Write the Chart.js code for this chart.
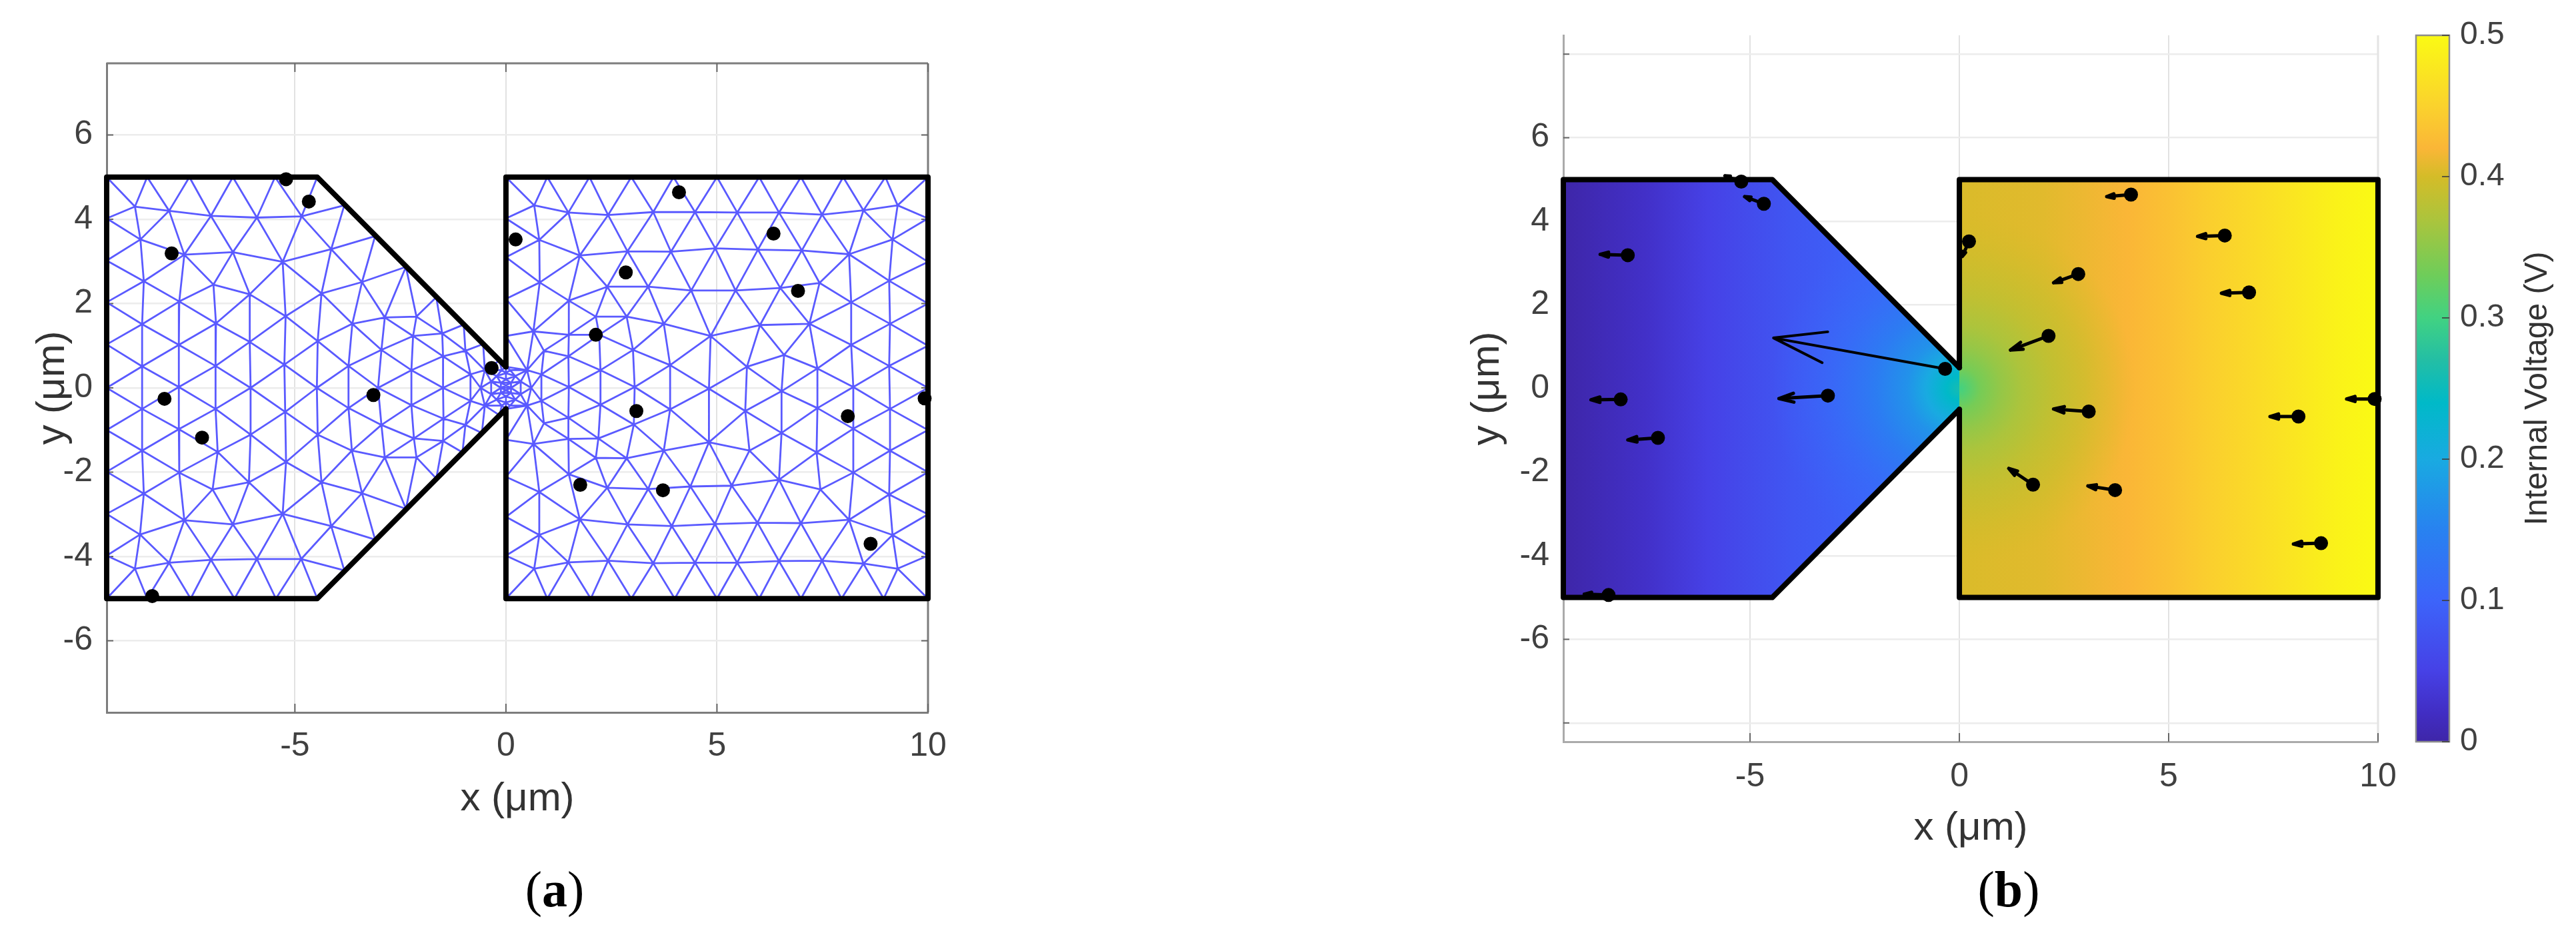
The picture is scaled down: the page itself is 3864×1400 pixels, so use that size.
<!DOCTYPE html>
<html><head><meta charset="utf-8">
<script src="https://cdn.jsdelivr.net/npm/chart.js@4/dist/chart.umd.min.js"></script>
<style>
html,body{margin:0;padding:0;background:#fff;width:3864px;height:1400px;overflow:hidden}
canvas{position:absolute;top:0}
</style></head><body>
<canvas id="a" width="1500" height="1400" style="left:0"></canvas>
<canvas id="b" width="1520" height="1400" style="left:2100px"></canvas>
<canvas id="c" width="254" height="1400" style="left:3610px"></canvas>
<script>
// ---------- axes ----------
const xTicks = [-5, 0, 5, 10];
const yTicks = [-6, -4, -2, 0, 2, 4, 6];
const yTicksB = [-8, -6, -4, -2, 0, 2, 4, 6, 8];
const yTicksBUnlabelled = [-8, 8];
const cbTicks = [0, 0.1, 0.2, 0.3, 0.4, 0.5];
const xTitle = 'x (μm)', yTitle = 'y (μm)', cbTitle = 'Internal Voltage (V)';
// ---------- device walls (μm) ----------
const wallLeft  = [[0,0.5],[-4.47,5],[-9.46,5],[-9.46,-5],[-4.47,-5],[0,-0.5]];
const wallRight = [[0,0.5],[0,5],[10,5],[10,-5],[0,-5],[0,-0.5]];
// ---------- ion positions and quiver tips (μm) ----------
const ionX = [-5.21,-4.67,-7.92,-8.09,-7.20,-3.14,-8.38,-0.34,0.23,2.84,2.13,3.09,1.76,3.72,4.10,6.34,6.92,8.10,9.92,8.64];
const ionY = [4.95,4.42,3.19,-0.26,-1.18,-0.17,-4.94,0.47,3.52,2.74,1.26,-0.55,-2.30,-2.43,4.64,3.66,2.30,-0.67,-0.25,-3.70];
const tipX = [-5.60,-5.13,-8.58,-8.80,-7.92,-4.31,-8.96,-4.44,0.07,2.25,1.22,2.25,1.18,3.07,3.52,5.69,6.26,7.42,9.25,7.98];
const tipY = [5.09,4.59,3.21,-0.27,-1.23,-0.24,-4.92,1.21,3.16,2.53,0.92,-0.49,-1.91,-2.33,4.59,3.64,2.28,-0.67,-0.25,-3.72];
const bigArrowIon = 7;
// ---------- colour map: voltage → colour ----------
const cmapV = [0,0.02,0.05,0.1,0.15,0.2,0.24,0.27,0.3,0.33,0.37,0.40,0.42,0.45,0.5];
const cmapRGB = [[62,38,168],[65,45,195],[70,65,230],[60,100,250],[40,130,240],[25,170,225],[0,185,200],[35,190,165],[65,210,130],[110,205,90],[172,196,60],[212,188,40],[250,182,55],[250,210,45],[250,250,20]];
// ---------- voltage read along x, and around the orifice ----------
const leftFieldX = [-9.46,-7.5,-6,-5,-4,-2,0];
const leftFieldV = [0,0.024,0.05,0.065,0.08,0.1,0.12];
const leftHubR = [0,0.3,0.8,1.25,2,3,4.5];
const leftHubV = [0.26,0.24,0.2,0.17,0.14,0.115,0.095];
const leftHubA = [1,1,1,1,1,0.7,0];
const rightFieldX = [0,2,3,4,5,6,7,8,9,10];
const rightFieldV = [0.403,0.407,0.413,0.42,0.432,0.447,0.46,0.475,0.49,0.5];
const rightHubR = [0,0.14,0.5,1,1.5,2.2,3,4.2];
const rightHubV = [0.3,0.31,0.335,0.355,0.37,0.385,0.392,0.4];
const rightHubA = [1,1,1,1,1,1,0.7,0];
// ---------- mesh nodes (μm) ----------
const meshWallLeft = [[-9.46,5],[-9.46,4.02],[-9.46,3.02],[-9.46,2.03],[-9.46,1.03],[-9.46,0],[-9.46,-1],[-9.46,-1.99],[-9.46,-2.99],[-9.46,-3.98],[-9.46,-5],
 [-8.5,5],[-7.5,5],[-6.47,5],[-5.47,5],[-4.47,5],[-8.5,-5],[-7.47,-5],[-6.43,-5],[-5.45,-5],[-4.47,-5],
 [-3.83,4.33],[-3.10,3.6],[-2.37,2.87],[-1.65,2.15],[-1.0,1.5],[-0.54,1.04],[-0.15,0.65],
 [-3.83,-4.33],[-3.10,-3.6],[-2.37,-2.87],[-1.65,-2.15],[-1.03,-1.53],[-0.57,-1.07],[-0.15,-0.65]];
const meshWallRight = [[0,5],[0,4.02],[0,3.10],[0,2.11],[0,1.23],[0,-1.23],[0,-2.11],[0,-3.06],[0,-3.98],[0,-5],
 [0.98,5],[1.98,5],[2.97,5],[3.97,5],[5,5],[6,5],[6.99,5],[7.99,5],[8.99,5],[10,5],
 [0.98,-5],[2.01,-5],[2.97,-5],[4,-5],[5,-5],[6,-5],[6.99,-5],[7.95,-5],[8.95,-5],[10,-5],
 [10,4.02],[10,2.99],[10,2],[10,1],[10,0],[10,-1],[10,-2],[10,-3],[10,-3.98]];
const meshHub = [[0,0.5],[0,-0.5],[0,0.2],[0,-0.2],[-0.12,0],[0.12,0],[-0.35,0.15],[-0.35,-0.15],[0.35,0.15],[0.35,-0.15],[-0.22,0.28],[-0.22,-0.28],[0.22,0.28],[0.22,-0.28],[-0.6,0],[0.6,0],[-0.5,0.42],[-0.5,-0.42],[0.5,0.42],[0.5,-0.42],
 [-0.12,0.12],[0.12,0.12],[-0.12,-0.12],[0.12,-0.12],[0,0.35],[0,-0.35],[-0.1,0.42],[0.1,0.42],[-0.1,-0.42],[0.1,-0.42]];
const meshLeft = [[-8.79,4.30],[-7.98,4.20],[-6.99,4.08],[-5.90,4.04],[-4.84,4.07],
 [-8.66,3.52],[-7.62,3.16],[-6.47,3.22],[-5.29,2.99],[-4.14,3.29],
 [-8.58,2.53],[-7.74,2.05],[-6.93,2.45],[-6.07,2.22],[-5.22,1.70],[-4.37,2.24],[-3.41,2.51],
 [-8.62,1.51],[-6.87,1.53],[-6.07,1.09],[-4.46,1.11],[-3.64,1.52],[-2.87,1.67],[-2.12,1.69],
 [-7.75,1.02],[-6.88,0.52],[-5.25,0.55],[-3.73,0.52],[-2.95,0.90],[-2.20,1.23],[-1.51,1.29],
 [-8.62,0.51],[-7.75,0.02],[-6.05,0],[-4.48,0],[-3.03,0],[-2.24,0.42],[-1.49,0.75],[-0.96,0.88],
 [-8.62,-0.50],[-6.88,-0.50],[-5.23,-0.57],[-3.73,-0.48],[-2.24,-0.41],[-1.49,0],[-0.84,0.32],[-0.84,-0.31],
 [-7.75,-0.98],[-6.05,-1.11],[-4.46,-1.11],[-2.95,-0.88],[-1.48,-0.73],[-0.96,-0.88],
 [-8.62,-1.49],[-6.83,-1.52],[-5.21,-1.76],[-3.65,-1.49],[-2.87,-1.65],[-2.18,-1.20],[-1.49,-1.26],
 [-7.74,-2.01],[-6.09,-2.24],[-4.37,-2.24],[-2.12,-1.65],
 [-8.58,-2.51],[-6.95,-2.41],[-5.29,-2.99],[-3.41,-2.50],
 [-7.62,-3.14],[-6.47,-3.24],[-4.14,-3.28],[-8.67,-3.48],
 [-7.98,-4.15],[-6.99,-4.08],[-5.90,-4.06],[-4.85,-4.06],[-8.79,-4.29]];
const meshRight = [[0.67,4.33],[1.48,4.16],[2.42,4.10],[3.49,4.17],[4.48,4.17],[5.48,4.16],[6.47,4.16],[7.49,4.11],[8.47,4.21],[9.28,4.33],
 [0.79,3.51],[1.75,3.14],[2.88,3.24],[3.91,3.23],[4.96,3.31],[5.97,3.28],[7.01,3.26],[8.13,3.17],[9.16,3.52],
 [0.80,2.50],[2.40,2.40],[3.37,2.40],[4.39,2.31],[5.44,2.31],[6.50,2.37],[7.43,2.49],[9.08,2.54],
 [1.49,2.07],[2.13,1.69],[2.86,1.69],[3.74,1.52],[4.85,1.23],[6.02,1.49],[7.19,1.52],[8.18,2.03],
 [0.65,1.34],[1.49,1.26],[2.21,1.26],[3.01,0.90],[3.89,0.54],[5.71,0.50],[6.59,0.78],[8.18,1.02],[9.10,1.52],
 [0.90,0.88],[1.48,0.75],[2.24,0.42],[3.05,0.02],[4.81,-0.02],[6.53,-0.08],[7.38,0.46],[8.23,0.02],[9.08,0.52],
 [0.84,0.32],[1.49,0.02],[2.24,-0.40],[3.89,-0.51],[5.67,-0.55],[7.38,-0.48],[8.23,-0.97],[9.10,-0.50],
 [0.84,-0.31],[1.48,-0.71],[3.03,-0.87],[4.81,-1.29],[6.53,-1.07],[9.10,-1.49],
 [0.90,-0.84],[0.65,-1.33],[2.19,-1.20],[1.48,-1.21],[2.86,-1.67],[3.74,-1.49],[5.77,-1.49],[7.36,-1.53],[8.23,-2.01],
 [2.13,-1.66],[1.49,-2.05],[2.40,-2.37],[3.37,-2.40],[4.37,-2.34],[5.35,-2.32],[6.47,-2.18],[7.45,-2.41],[9.08,-2.53],
 [0.79,-2.47],[1.75,-3.12],[2.88,-3.24],[3.93,-3.28],[4.95,-3.23],[5.96,-3.20],[6.99,-3.21],[8.13,-3.13],[9.16,-3.49],
 [0.79,-3.49],[1.48,-4.14],[2.42,-4.10],[3.49,-4.16],[4.48,-4.15],[5.48,-4.15],[6.47,-4.11],[7.49,-4.10],[8.47,-4.17],[9.28,-4.29],[0.67,-4.29]];

// ---------- helpers ----------
const FONT = 'Liberation Sans';
const TXT = '#404040';
function zipXY(pts){return pts.map(p=>({x:p[0],y:p[1]}));}
function cmap(v,a){
  let i=0; while(i<cmapV.length-2 && v>cmapV[i+1]) i++;
  const t=Math.max(0,Math.min(1,(v-cmapV[i])/(cmapV[i+1]-cmapV[i])));
  const c=cmapRGB[i].map((q,k)=>Math.round(q+(cmapRGB[i+1][k]-q)*t));
  return `rgba(${c[0]},${c[1]},${c[2]},${a===undefined?1:a})`;
}
function inDevice(x,y){
  if(x>=0) return x<=10 && Math.abs(y)<=5;
  if(x<-9.46) return false;
  if(x<=-4.47) return Math.abs(y)<=5;
  return Math.abs(y)<=0.5+(-x)*(4.5/4.47);
}
function meshEdges(){
  const seen={},N=[...meshWallLeft,...meshWallRight,...meshHub,...meshLeft,...meshRight];
  const out=[];
  const R2=3.2*3.2;
  const d2=(a,b)=>(a[0]-b[0])**2+(a[1]-b[1])**2;
  function add(i,j){
    const k=i<j?i+'_'+j:j+'_'+i; if(seen[k])return; seen[k]=1;
    out.push({x:N[i][0],y:N[i][1]},{x:N[j][0],y:N[j][1]},{x:NaN,y:NaN});
  }
  for(let i=0;i<N.length;i++){
    const nb=[];
    for(let j=i+1;j<N.length;j++) if(d2(N[i],N[j])<R2) nb.push(j);
    for(let a=0;a<nb.length;a++)for(let b=a+1;b<nb.length;b++){
      const A=N[i],B=N[nb[a]],C=N[nb[b]];
      const D=2*(A[0]*(B[1]-C[1])+B[0]*(C[1]-A[1])+C[0]*(A[1]-B[1]));
      if(Math.abs(D)<1e-3) continue;
      const sa=A[0]*A[0]+A[1]*A[1],sb=B[0]*B[0]+B[1]*B[1],sc=C[0]*C[0]+C[1]*C[1];
      const ux=(sa*(B[1]-C[1])+sb*(C[1]-A[1])+sc*(A[1]-B[1]))/D;
      const uy=(sa*(C[0]-B[0])+sb*(A[0]-C[0])+sc*(B[0]-A[0]))/D;
      const r2=(A[0]-ux)**2+(A[1]-uy)**2;
      if(r2>9) continue;
      let empty=true;
      for(let k=0;k<N.length;k++){
        if(k===i||k===nb[a]||k===nb[b])continue;
        if((N[k][0]-ux)**2+(N[k][1]-uy)**2<r2-1e-6){empty=false;break;}
      }
      if(!empty)continue;
      const cx=(A[0]+B[0]+C[0])/3,cy=(A[1]+B[1]+C[1])/3;
      if(!inDevice(cx,cy))continue;
      add(i,nb[a]);add(nb[a],nb[b]);add(i,nb[b]);
    }
  }
  return out;
}
function quiverSegments(big){
  const out=[],al=0.3,be=0.3;
  ionX.forEach((x,i)=>{
    if((i===bigArrowIon)!==big) return;
    const tx=tipX[i],ty=tipY[i],ux=tx-x,uy=ty-ionY[i];
    out.push({x,y:ionY[i]},{x:tx,y:ty},{x:NaN,y:NaN});
    out.push({x:tx-al*(ux+be*uy),y:ty-al*(uy-be*ux)},{x:tx,y:ty},{x:tx-al*(ux-be*uy),y:ty-al*(uy+be*ux)},{x:NaN,y:NaN});
  });
  return out;
}
function wallLines(){
  return [...zipXY(wallLeft),{x:NaN,y:NaN},...zipXY(wallRight)];
}
function closed(pts){return [...zipXY(pts),{x:pts[0][0],y:pts[0][1]}];}
const leftShape=closed(wallLeft), rightShape=closed(wallRight);
function linearFill(xs,vs){
  return c=>{
    const ch=c.chart; if(!ch.chartArea) return 'rgba(0,0,0,0)';
    const s=ch.scales.x,a=s.getPixelForValue(xs[0]),b=s.getPixelForValue(xs[xs.length-1]);
    const g=ch.ctx.createLinearGradient(a,0,b,0);
    xs.forEach((x,i)=>g.addColorStop((x-xs[0])/(xs[xs.length-1]-xs[0]),cmap(vs[i])));
    return g;
  };
}
function radialFill(rs,vs,as){
  return c=>{
    const ch=c.chart; if(!ch.chartArea) return 'rgba(0,0,0,0)';
    const sx=ch.scales.x,sy=ch.scales.y,cx=sx.getPixelForValue(0),cy=sy.getPixelForValue(0);
    const R=sx.getPixelForValue(rs[rs.length-1])-cx;
    const g=ch.ctx.createRadialGradient(cx,cy,0,cx,cy,R);
    rs.forEach((r,i)=>g.addColorStop(r/rs[rs.length-1],cmap(vs[i],as[i])));
    return g;
  };
}
function line(data,color,w,extra){
  return Object.assign({type:'scatter',showLine:true,data,borderColor:color,borderWidth:w,pointRadius:0,clip:false,
    borderCapStyle:'round',borderJoinStyle:'round',tension:0},extra||{});
}
function shape(data,fillFn){
  return {type:'scatter',showLine:true,data,borderWidth:0,borderColor:'rgba(0,0,0,0)',pointRadius:0,clip:false,fill:'shape',backgroundColor:fillFn};
}
function frame(o){return {id:'frame',beforeDatasetsDraw(ch){
  const {ctx,chartArea:A}=ch; ctx.save();
  ctx.strokeStyle=o.box; ctx.lineWidth=o.boxW;
  if(o.top){ctx.beginPath();ctx.moveTo(A.left,A.top);ctx.lineTo(A.right,A.top);ctx.stroke();}
  ctx.strokeStyle=o.rightC||o.box;
  if(o.rightC!==null){ctx.beginPath();ctx.moveTo(A.right,A.top);ctx.lineTo(A.right,A.bottom);ctx.stroke();}
  ctx.strokeStyle=o.tick; ctx.lineWidth=2;
  if(ch.scales.x&&o.xLen) ch.scales.x.ticks.forEach(t=>{const p=ch.scales.x.getPixelForValue(t.value);
    ctx.beginPath();ctx.moveTo(p,A.bottom);ctx.lineTo(p,A.bottom-o.xLen);ctx.stroke();
    if(o.top){ctx.beginPath();ctx.moveTo(p,A.top);ctx.lineTo(p,A.top+o.xLen);ctx.stroke();}
  });
  ch.scales.y.ticks.forEach(t=>{const p=ch.scales.y.getPixelForValue(t.value);
    ctx.beginPath();ctx.moveTo(A.left,p);ctx.lineTo(A.left+o.yLen,p);ctx.stroke();
    if(o.top){ctx.beginPath();ctx.moveTo(A.right,p);ctx.lineTo(A.right-o.yLen,p);ctx.stroke();}
  });
  ctx.restore();
}};}
function caption(letter,cx,base){return {id:'caption',afterDraw(ch){
  const c=ch.ctx; c.save(); c.fillStyle='#000'; c.textBaseline='alphabetic'; c.textAlign='left';
  const n='76px "Liberation Serif"',b='bold 76px "Liberation Serif"';
  c.font=n; const w1=c.measureText('(').width,w3=c.measureText(')').width;
  c.font=b; const w2=c.measureText(letter).width;
  let x=cx-(w1+w2+w3)/2;
  c.font=n; c.fillText('(',x,base); x+=w1;
  c.font=b; c.fillText(letter,x,base); x+=w2;
  c.font=n; c.fillText(')',x,base);
  c.restore();
}};}
function panelOptions(o){
  const hide=o.hideY||[];
  return {
    responsive:false,animation:false,devicePixelRatio:1,events:[],
    layout:{autoPadding:false,padding:{left:0,top:o.top,right:o.right,bottom:110}},
    plugins:{legend:{display:false},tooltip:{enabled:false}},
    scales:{
      x:{type:'linear',min:-9.46,max:10,afterBuildTicks:s=>{s.ticks=xTicks.map(v=>({value:v}));},afterFit:s=>{s.height=o.xH;},
        grid:{color:'#e2e2e2',lineWidth:2,drawTicks:false},border:{color:o.box,width:o.axisW},
        ticks:{padding:o.xPad,color:TXT,font:{family:FONT,size:50},maxRotation:0,autoSkip:false,callback:v=>String(v)},
        title:{display:true,text:xTitle,color:'#333',font:{family:FONT,size:60},padding:{top:0,bottom:o.xTitlePad}}},
      y:{type:'linear',min:-o.yMax,max:o.yMax,afterBuildTicks:s=>{s.ticks=o.yTicks.map(v=>({value:v}));},afterFit:s=>{s.width=o.yW;},
        grid:{color:'#ececec',lineWidth:2.5,drawTicks:false},border:{color:o.box,width:o.axisW},
        ticks:{padding:21,color:TXT,font:{family:FONT,size:50},autoSkip:false,callback:v=>hide.includes(v)?'':String(v)},
        title:{display:true,text:yTitle,color:'#333',font:{family:FONT,size:60},padding:{top:o.yTitlePad,bottom:0}}}
    }
  };
}
const ionData=ionX.map((x,i)=>({x,y:ionY[i]}));
const ionSet={type:'scatter',data:ionData,pointRadius:10.5,pointBackgroundColor:'#000',pointBorderWidth:0,clip:false};

new Chart(document.getElementById('a'),{type:'scatter',
  data:{datasets:[ionSet,
    line(wallLines(),'#000',8),
    line(meshEdges(),'rgb(90,90,255)',2.8,{borderCapStyle:'butt'})]},
  options:panelOptions({top:95,right:108,xH:221,yW:160,yMax:7.7,yTicks,box:'#7d7d7d',axisW:3,xPad:21,xTitlePad:55,yTitlePad:43}),
  plugins:[frame({box:'#7d7d7d',boxW:3,top:true,tick:'#666',xLen:13,yLen:10}),caption('a',832,1360)]
});

new Chart(document.getElementById('b'),{type:'scatter',
  data:{datasets:[Object.assign({},ionSet,{data:ionData}),
    line(quiverSegments(false),'#000',5),
    line(quiverSegments(true),'#000',4),
    line(wallLines(),'#000',8),
    shape(leftShape,radialFill(leftHubR,leftHubV,leftHubA)),
    shape(rightShape,radialFill(rightHubR,rightHubV,rightHubA)),
    shape(leftShape,linearFill(leftFieldX,leftFieldV)),
    shape(rightShape,linearFill(rightFieldX,rightFieldV))]},
  options:panelOptions({top:53,right:53,xH:177,yW:245,yMax:8.45,yTicks:yTicksB,hideY:yTicksBUnlabelled,box:'#aaaaaa',axisW:3,xPad:23,xTitlePad:11,yTitlePad:95}),
  plugins:[frame({box:'#aaaaaa',boxW:3,top:false,rightC:'#e4e4e4',tick:'#666',xLen:13,yLen:9}),caption('b',913,1360)]
});

new Chart(document.getElementById('c'),{type:'bar',
  data:{labels:[''],datasets:[{data:[0.5],barPercentage:1,categoryPercentage:1,borderWidth:0,
    backgroundColor:c=>{const ch=c.chart;if(!ch.chartArea)return '#888';
      const A=ch.chartArea,g=ch.ctx.createLinearGradient(0,A.bottom,0,A.top);
      cmapV.forEach((v,i)=>g.addColorStop(v/0.5,cmap(v)));return g;}}]},
  options:{responsive:false,animation:false,devicePixelRatio:1,events:[],
    layout:{autoPadding:false,padding:{left:14,top:53,right:0,bottom:287}},
    plugins:{legend:{display:false},tooltip:{enabled:false}},
    scales:{
      x:{display:false},
      y:{position:'right',min:0,max:0.5,afterBuildTicks:s=>{s.ticks=cbTicks.map(v=>({value:v}));},afterFit:s=>{s.width=190;},
        grid:{display:false,drawTicks:false},border:{display:false},
        ticks:{padding:16,color:TXT,font:{family:FONT,size:48},autoSkip:false,callback:v=>String(v)}}
    }},
  plugins:[{id:'cbFrame',afterDatasetsDraw(ch){
    const {ctx,chartArea:A}=ch; ctx.save();
    ctx.strokeStyle='#8c8c8c';ctx.lineWidth=2.5;ctx.strokeRect(A.left,A.top,A.right-A.left,A.bottom-A.top);
    ctx.strokeStyle='rgba(60,60,60,0.8)';ctx.lineWidth=2;
    ch.scales.y.ticks.forEach(t=>{const p=ch.scales.y.getPixelForValue(t.value);
      ctx.beginPath();ctx.moveTo(A.right,p);ctx.lineTo(A.right-11,p);ctx.stroke();});
    ctx.translate(197,583);ctx.rotate(-Math.PI/2);ctx.fillStyle='#333';ctx.font='48px "Liberation Sans"';
    ctx.textAlign='center';ctx.textBaseline='middle';ctx.fillText(cbTitle,0,0);
    ctx.restore();
  }}]
});
</script>
</body></html>
